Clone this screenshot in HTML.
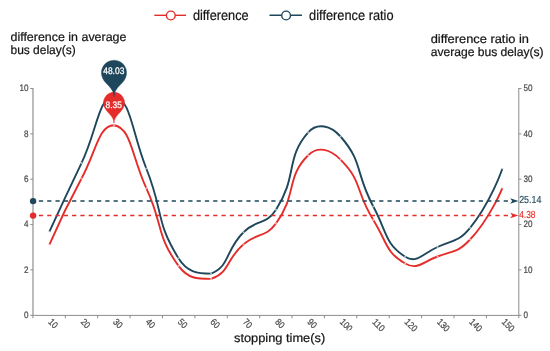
<!DOCTYPE html>
<html lang="en"><head><meta charset="utf-8"><title>chart</title>
<style>html,body{margin:0;padding:0;background:#fff;}body{width:550px;height:351px;overflow:hidden;}svg{display:block;}text{font-family:'Liberation Sans', sans-serif;text-rendering:geometricPrecision;}</style></head><body>
<svg width="550" height="351" viewBox="0 0 550 351">
<rect width="550" height="351" fill="#fff"/>
<g><line x1="154.3" y1="15.3" x2="186.0" y2="15.3" stroke="#e42d2b" stroke-width="1.4"/>
<circle cx="170.8" cy="15.5" r="4.4" fill="#fff" stroke="#e42d2b" stroke-width="1.4"/>
<text x="192.9" y="20" font-size="14" fill="#141414" stroke="#141414" stroke-width="0.2" textLength="55.7" lengthAdjust="spacingAndGlyphs">difference</text></g>
<g><line x1="269.5" y1="15.3" x2="302.0" y2="15.3" stroke="#1e475b" stroke-width="1.4"/>
<circle cx="286.1" cy="15.5" r="4.4" fill="#fff" stroke="#1e475b" stroke-width="1.4"/>
<text x="309.1" y="20" font-size="14" fill="#141414" stroke="#141414" stroke-width="0.2" textLength="84.5" lengthAdjust="spacingAndGlyphs">difference ratio</text></g>
<text x="10.5" y="41.0" font-size="12.2" fill="#141414" stroke="#141414" stroke-width="0.22" textLength="115.9" lengthAdjust="spacingAndGlyphs">difference in average</text>
<text x="10.5" y="54.0" font-size="12.2" fill="#141414" stroke="#141414" stroke-width="0.22" textLength="65.2" lengthAdjust="spacingAndGlyphs">bus delay(s)</text>
<text x="430.7" y="42.5" font-size="12.2" fill="#141414" stroke="#141414" stroke-width="0.22" textLength="98.3" lengthAdjust="spacingAndGlyphs">difference ratio in</text>
<text x="430.7" y="56.1" font-size="12.2" fill="#141414" stroke="#141414" stroke-width="0.22" textLength="112.9" lengthAdjust="spacingAndGlyphs">average bus delay(s)</text>
<g stroke="#8c8c8c" stroke-width="1" fill="none">
<line x1="33.0" y1="88.0" x2="33.0" y2="315.9" stroke="#bcbcbc" stroke-width="2"/>
<line x1="518.8" y1="88.0" x2="518.8" y2="315.9"/>
<line x1="33.3" y1="315.4" x2="518.8" y2="315.4"/>
<line x1="32.9" y1="315.3" x2="32.9" y2="318.3"/>
<line x1="65.3" y1="315.3" x2="65.3" y2="318.3"/>
<line x1="97.7" y1="315.3" x2="97.7" y2="318.3"/>
<line x1="130.1" y1="315.3" x2="130.1" y2="318.3"/>
<line x1="162.5" y1="315.3" x2="162.5" y2="318.3"/>
<line x1="194.9" y1="315.3" x2="194.9" y2="318.3"/>
<line x1="227.3" y1="315.3" x2="227.3" y2="318.3"/>
<line x1="259.7" y1="315.3" x2="259.7" y2="318.3"/>
<line x1="292.0" y1="315.3" x2="292.0" y2="318.3"/>
<line x1="324.4" y1="315.3" x2="324.4" y2="318.3"/>
<line x1="356.8" y1="315.3" x2="356.8" y2="318.3"/>
<line x1="389.2" y1="315.3" x2="389.2" y2="318.3"/>
<line x1="421.6" y1="315.3" x2="421.6" y2="318.3"/>
<line x1="454.0" y1="315.3" x2="454.0" y2="318.3"/>
<line x1="486.4" y1="315.3" x2="486.4" y2="318.3"/>
<line x1="518.8" y1="315.3" x2="518.8" y2="318.3"/>
<line x1="30.3" y1="315.3" x2="32.9" y2="315.3"/>
<line x1="518.8" y1="315.3" x2="521.4" y2="315.3"/>
<line x1="30.3" y1="269.9" x2="32.9" y2="269.9"/>
<line x1="518.8" y1="269.9" x2="521.4" y2="269.9"/>
<line x1="30.3" y1="224.6" x2="32.9" y2="224.6"/>
<line x1="518.8" y1="224.6" x2="521.4" y2="224.6"/>
<line x1="30.3" y1="179.2" x2="32.9" y2="179.2"/>
<line x1="518.8" y1="179.2" x2="521.4" y2="179.2"/>
<line x1="30.3" y1="133.9" x2="32.9" y2="133.9"/>
<line x1="518.8" y1="133.9" x2="521.4" y2="133.9"/>
<line x1="30.3" y1="88.5" x2="32.9" y2="88.5"/>
<line x1="518.8" y1="88.5" x2="521.4" y2="88.5"/>
</g>
<g font-size="9.4" fill="#4a4a4a" stroke="#4a4a4a" stroke-width="0.22" lengthAdjust="spacingAndGlyphs">
<text  x="24.0" y="318.0" textLength="4.5" lengthAdjust="spacingAndGlyphs">0</text>
<text  x="523.6" y="318.0" textLength="4.5" lengthAdjust="spacingAndGlyphs">0</text>
<text  x="24.0" y="272.6" textLength="4.5" lengthAdjust="spacingAndGlyphs">2</text>
<text  x="523.6" y="272.6" textLength="9.0" lengthAdjust="spacingAndGlyphs">10</text>
<text  x="24.0" y="227.3" textLength="4.5" lengthAdjust="spacingAndGlyphs">4</text>
<text  x="523.6" y="227.3" textLength="9.0" lengthAdjust="spacingAndGlyphs">20</text>
<text  x="24.0" y="181.9" textLength="4.5" lengthAdjust="spacingAndGlyphs">6</text>
<text  x="523.6" y="181.9" textLength="9.0" lengthAdjust="spacingAndGlyphs">30</text>
<text  x="24.0" y="136.6" textLength="4.5" lengthAdjust="spacingAndGlyphs">8</text>
<text  x="523.6" y="136.6" textLength="9.0" lengthAdjust="spacingAndGlyphs">40</text>
<text  x="19.5" y="91.2" textLength="9.0" lengthAdjust="spacingAndGlyphs">10</text>
<text  x="523.6" y="91.2" textLength="9.0" lengthAdjust="spacingAndGlyphs">50</text>
<text transform="translate(50.1 320.2) rotate(45)" x="0.0" y="3.3" textLength="9.0" lengthAdjust="spacingAndGlyphs">10</text>
<text transform="translate(82.5 320.2) rotate(45)" x="0.0" y="3.3" textLength="9.0" lengthAdjust="spacingAndGlyphs">20</text>
<text transform="translate(114.9 320.2) rotate(45)" x="0.0" y="3.3" textLength="9.0" lengthAdjust="spacingAndGlyphs">30</text>
<text transform="translate(147.3 320.2) rotate(45)" x="0.0" y="3.3" textLength="9.0" lengthAdjust="spacingAndGlyphs">40</text>
<text transform="translate(179.7 320.2) rotate(45)" x="0.0" y="3.3" textLength="9.0" lengthAdjust="spacingAndGlyphs">50</text>
<text transform="translate(212.1 320.2) rotate(45)" x="0.0" y="3.3" textLength="9.0" lengthAdjust="spacingAndGlyphs">60</text>
<text transform="translate(244.5 320.2) rotate(45)" x="0.0" y="3.3" textLength="9.0" lengthAdjust="spacingAndGlyphs">70</text>
<text transform="translate(276.8 320.2) rotate(45)" x="0.0" y="3.3" textLength="9.0" lengthAdjust="spacingAndGlyphs">80</text>
<text transform="translate(309.2 320.2) rotate(45)" x="0.0" y="3.3" textLength="9.0" lengthAdjust="spacingAndGlyphs">90</text>
<text transform="translate(341.6 320.2) rotate(45)" x="0.0" y="3.3" textLength="13.5" lengthAdjust="spacingAndGlyphs">100</text>
<text transform="translate(374.0 320.2) rotate(45)" x="0.0" y="3.3" textLength="13.5" lengthAdjust="spacingAndGlyphs">110</text>
<text transform="translate(406.4 320.2) rotate(45)" x="0.0" y="3.3" textLength="13.5" lengthAdjust="spacingAndGlyphs">120</text>
<text transform="translate(438.8 320.2) rotate(45)" x="0.0" y="3.3" textLength="13.5" lengthAdjust="spacingAndGlyphs">130</text>
<text transform="translate(471.2 320.2) rotate(45)" x="0.0" y="3.3" textLength="13.5" lengthAdjust="spacingAndGlyphs">140</text>
<text transform="translate(503.6 320.2) rotate(45)" x="0.0" y="3.3" textLength="13.5" lengthAdjust="spacingAndGlyphs">150</text>
</g>
<rect x="226" y="330.2" width="132" height="19" fill="#fff"/>
<text x="234.0" y="341.6" font-size="12.3" fill="#141414" stroke="#141414" stroke-width="0.22" textLength="91.2" lengthAdjust="spacingAndGlyphs">stopping time(s)</text>
<path d="M49.30 244.80C49.30 244.80 63.98 210.88 81.50 178.50C96.33 151.08 98.82 125.20 114.00 125.20C131.22 127.78 131.56 156.05 146.30 188.20C163.81 226.40 155.64 233.90 178.50 265.90C188.04 278.90 197.27 278.90 211.10 278.90C229.77 272.69 225.62 259.59 243.50 244.30C258.07 231.84 265.03 238.49 276.00 223.40C297.38 193.99 285.69 177.57 308.20 155.30C317.94 145.67 330.02 149.20 340.50 159.60C362.57 181.50 355.20 190.83 373.30 219.90C387.55 242.78 385.28 252.15 405.20 263.50C417.38 270.45 422.14 262.18 437.50 256.50C454.59 250.18 457.89 252.42 470.10 239.50C490.34 218.07 502.40 187.80 502.40 187.80" fill="none" stroke="#e42d2b" stroke-width="1.9" stroke-linejoin="round" stroke-linecap="butt"/>
<circle cx="49.3" cy="244.8" r="1.05" fill="#fff" fill-opacity="0.6"/>
<circle cx="81.5" cy="178.5" r="1.05" fill="#fff" fill-opacity="0.6"/>
<circle cx="114.0" cy="125.2" r="1.05" fill="#fff" fill-opacity="0.6"/>
<circle cx="146.3" cy="188.2" r="1.05" fill="#fff" fill-opacity="0.6"/>
<circle cx="178.5" cy="265.9" r="1.05" fill="#fff" fill-opacity="0.6"/>
<circle cx="211.1" cy="278.9" r="1.05" fill="#fff" fill-opacity="0.6"/>
<circle cx="243.5" cy="244.3" r="1.05" fill="#fff" fill-opacity="0.6"/>
<circle cx="276.0" cy="223.4" r="1.05" fill="#fff" fill-opacity="0.6"/>
<circle cx="308.2" cy="155.3" r="1.05" fill="#fff" fill-opacity="0.6"/>
<circle cx="340.5" cy="159.6" r="1.05" fill="#fff" fill-opacity="0.6"/>
<circle cx="373.3" cy="219.9" r="1.05" fill="#fff" fill-opacity="0.6"/>
<circle cx="405.2" cy="263.5" r="1.05" fill="#fff" fill-opacity="0.6"/>
<circle cx="437.5" cy="256.5" r="1.05" fill="#fff" fill-opacity="0.6"/>
<circle cx="470.1" cy="239.5" r="1.05" fill="#fff" fill-opacity="0.6"/>
<circle cx="502.4" cy="187.8" r="1.05" fill="#fff" fill-opacity="0.6"/>
<path d="M49.30 231.80C49.30 231.80 65.11 197.31 81.50 163.10C97.46 129.81 98.31 96.80 114.00 96.80C130.71 98.19 131.73 132.01 146.30 168.50C163.98 212.76 154.98 220.15 178.50 258.30C187.38 272.70 197.89 273.60 211.10 273.60C230.39 265.86 224.98 250.44 243.50 232.20C257.43 218.49 265.63 225.70 276.00 209.70C297.98 175.80 284.98 158.75 308.20 132.40C317.23 122.15 330.85 125.52 340.50 136.50C363.40 162.57 355.02 172.53 373.30 206.50C387.37 232.63 384.72 243.78 405.20 256.70C416.82 264.03 422.21 253.81 437.50 247.00C454.66 239.36 458.45 241.89 470.10 227.80C490.90 202.64 502.40 168.50 502.40 168.50" fill="none" stroke="#1e475b" stroke-width="1.9" stroke-linejoin="round" stroke-linecap="butt"/>
<circle cx="49.3" cy="231.8" r="1.05" fill="#fff" fill-opacity="0.6"/>
<circle cx="81.5" cy="163.1" r="1.05" fill="#fff" fill-opacity="0.6"/>
<circle cx="114.0" cy="96.8" r="1.05" fill="#fff" fill-opacity="0.6"/>
<circle cx="146.3" cy="168.5" r="1.05" fill="#fff" fill-opacity="0.6"/>
<circle cx="178.5" cy="258.3" r="1.05" fill="#fff" fill-opacity="0.6"/>
<circle cx="211.1" cy="273.6" r="1.05" fill="#fff" fill-opacity="0.6"/>
<circle cx="243.5" cy="232.2" r="1.05" fill="#fff" fill-opacity="0.6"/>
<circle cx="276.0" cy="209.7" r="1.05" fill="#fff" fill-opacity="0.6"/>
<circle cx="308.2" cy="132.4" r="1.05" fill="#fff" fill-opacity="0.6"/>
<circle cx="340.5" cy="136.5" r="1.05" fill="#fff" fill-opacity="0.6"/>
<circle cx="373.3" cy="206.5" r="1.05" fill="#fff" fill-opacity="0.6"/>
<circle cx="405.2" cy="256.7" r="1.05" fill="#fff" fill-opacity="0.6"/>
<circle cx="437.5" cy="247.0" r="1.05" fill="#fff" fill-opacity="0.6"/>
<circle cx="470.1" cy="227.8" r="1.05" fill="#fff" fill-opacity="0.6"/>
<circle cx="502.4" cy="168.5" r="1.05" fill="#fff" fill-opacity="0.6"/>
<line x1="33.1" y1="215.6" x2="511.0" y2="215.6" stroke="#e42d2b" stroke-width="1.5" stroke-dasharray="4.2 4.1" stroke-dashoffset="2.5"/>
<circle cx="33.1" cy="215.6" r="3.2" fill="#e42d2b"/>
<path d="M518.5 215.6 L510.1 212.8 L512.2 215.6 L510.1 218.3 Z" fill="#e42d2b"/>
<text x="519.2" y="218.0" font-size="10.2" fill="#e42d2b" stroke="#e42d2b" stroke-width="0.15" textLength="16.3" lengthAdjust="spacingAndGlyphs">4.38</text>
<line x1="33.1" y1="201.1" x2="511.0" y2="201.1" stroke="#1e475b" stroke-width="1.5" stroke-dasharray="4.2 4.1" stroke-dashoffset="2.5"/>
<circle cx="33.1" cy="201.1" r="3.2" fill="#1e475b"/>
<path d="M518.5 201.1 L510.1 198.3 L512.2 201.1 L510.1 203.8 Z" fill="#1e475b"/>
<text x="519.2" y="203.0" font-size="10.2" fill="#1e475b" stroke="#1e475b" stroke-width="0.15" textLength="22.2" lengthAdjust="spacingAndGlyphs">25.14</text>
<path d="M104.48 107.26A10.50 10.50 0 1 1 123.52 107.26C120.86 112.97 114.00 115.95 114.00 123.30C114.00 115.95 107.14 112.97 104.48 107.26Z" fill="#e42d2b" stroke="#e42d2b" stroke-width="0.5" stroke-linejoin="round"/>
<text x="105.6" y="107.9" font-size="9.4" fill="#fff" stroke="#fff" stroke-width="0.25" textLength="16.3" lengthAdjust="spacingAndGlyphs">8.35</text>
<path d="M102.62 78.20A12.60 12.60 0 1 1 125.38 78.20C122.14 85.03 114.00 87.98 114.00 96.80C114.00 87.98 105.86 85.03 102.62 78.20Z" fill="#1e475b" stroke="#1e475b" stroke-width="0.4" stroke-linejoin="round"/>
<text x="103.2" y="74.2" font-size="9.6" fill="#fff" stroke="#fff" stroke-width="0.25" textLength="21.2" lengthAdjust="spacingAndGlyphs">48.03</text>
</svg></body></html>
